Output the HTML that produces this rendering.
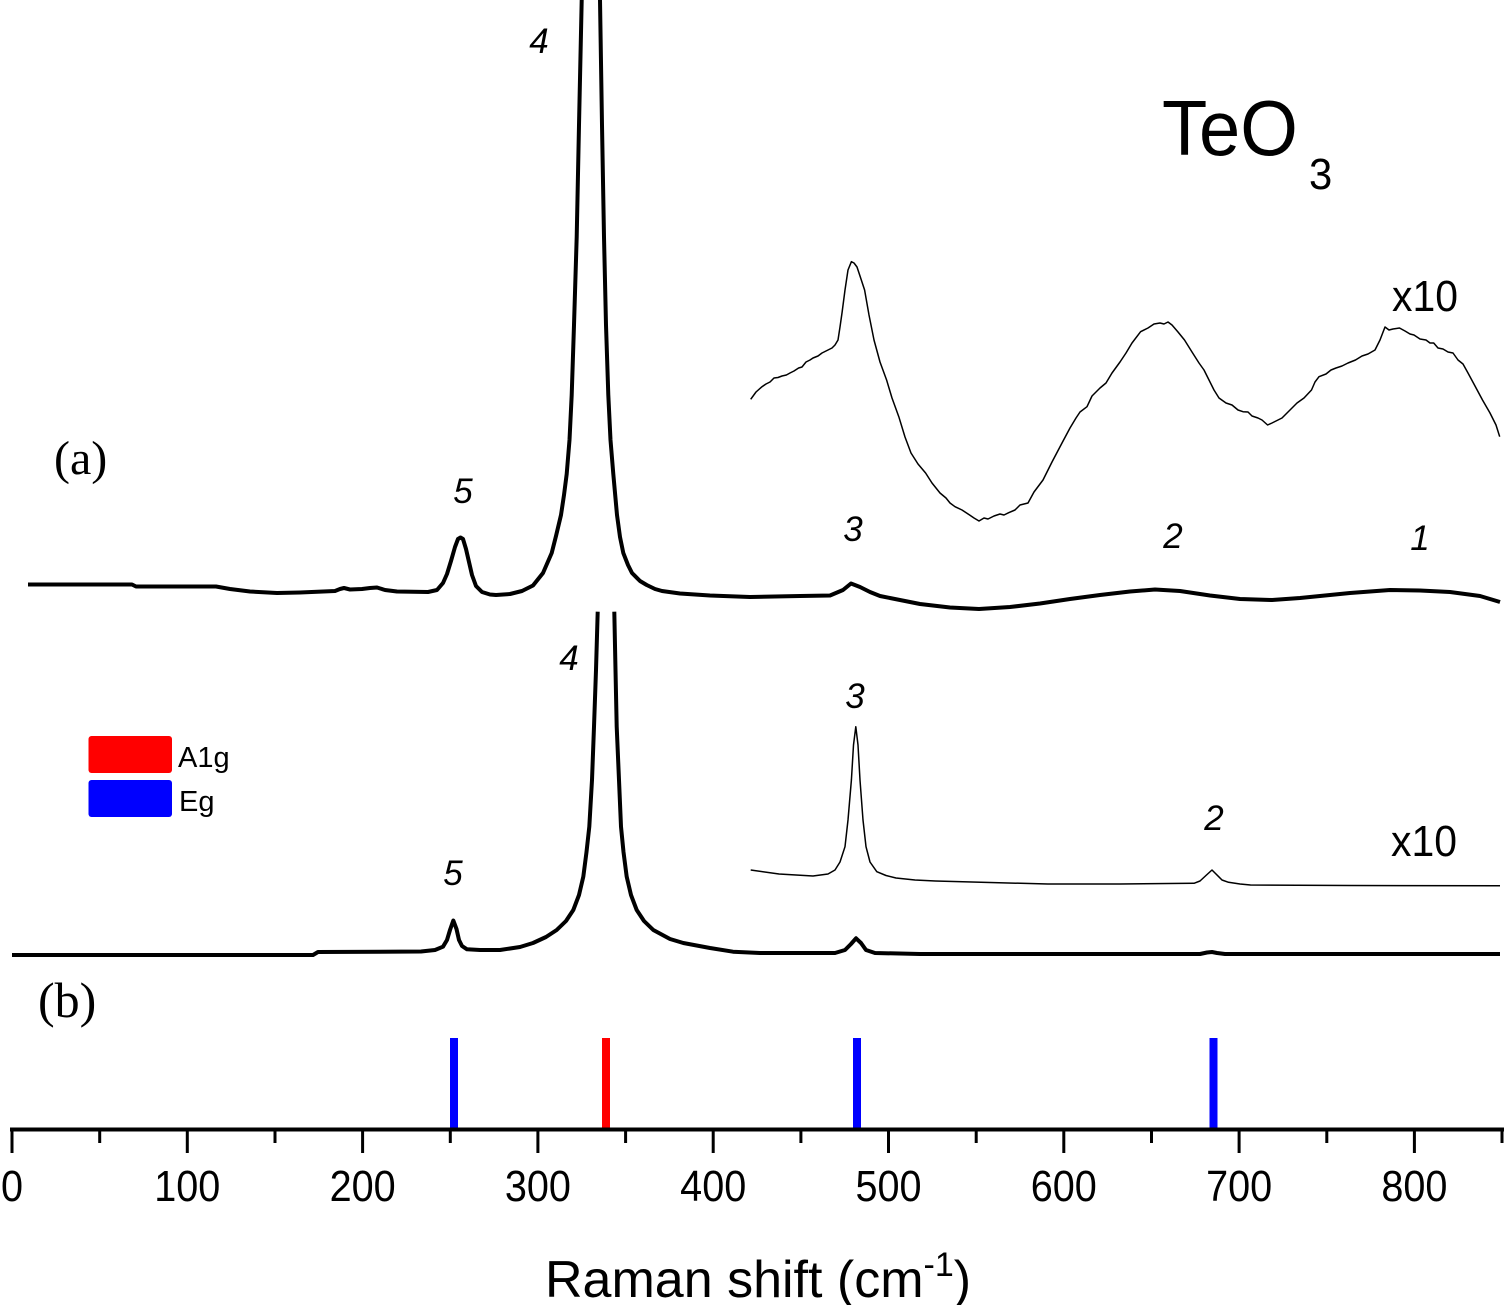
<!DOCTYPE html>
<html><head><meta charset="utf-8"><style>
html,body{margin:0;padding:0;background:#fff;}
svg{display:block;}
text{font-family:"Liberation Sans",Arial,sans-serif;fill:#000;}
</style></head><body>
<svg width="1506" height="1305" viewBox="0 0 1506 1305" xmlns="http://www.w3.org/2000/svg">
<rect width="1506" height="1305" fill="#fff"/>

<!-- TeO3 title -->
<text transform="translate(1162,155) scale(0.95,1)" font-size="78">TeO</text>
<text transform="translate(1309,189) scale(0.95,1)" font-size="44">3</text>

<!-- (a) / (b) labels -->
<text x="54" y="474" font-size="48" style="font-family:'Liberation Serif','Times New Roman',serif">(a)</text>
<text x="38" y="1017" font-size="50" style="font-family:'Liberation Serif','Times New Roman',serif">(b)</text>

<!-- x10 labels -->
<text transform="translate(1392,311) scale(0.93,1)" font-size="44">x10</text>
<text transform="translate(1391,856) scale(0.93,1)" font-size="44">x10</text>

<!-- peak number labels -->
<g font-size="35" font-style="italic" text-anchor="middle">
<text x="539" y="53">4</text>
<text x="463" y="503">5</text>
<text x="853" y="541">3</text>
<text x="1173" y="548">2</text>
<text x="1420" y="550">1</text>
<text x="569" y="670">4</text>
<text x="453" y="885">5</text>
<text x="855" y="708">3</text>
<text x="1214" y="830">2</text>
</g>

<!-- legend -->
<rect x="88.5" y="736" width="83.5" height="37" rx="3" fill="#ff0000"/>
<rect x="88.5" y="780" width="83.5" height="37" rx="3" fill="#0000ff"/>
<text x="178" y="767" font-size="29">A1g</text>
<text x="179" y="811" font-size="29">Eg</text>

<g fill="none" stroke="#000" stroke-linejoin="round" stroke-linecap="butt">
<!-- spectrum (a) thick, left part -->
<polyline stroke-width="4" points="28,584.5 132,584.5 136,586.5 216,586.5 230,589 250,591.5 277,593 300,592.5 335,591 340,589 344,588 350,589.5 362,589 370,588 377,587.5 385,590 397,591.5 428,592 437,590 443,583 447,574 451,561 455,547 458,539 460.5,537.5 463,539 466,549 469,562 472,575 476,586 482,592 490,594.5 496,595 510,594 522,591 533,585.5 543,573 551.7,553 556,536 561,515 564,495 566.7,474 569.5,440 571.7,395 574,325 576.7,237 579,125 581.7,0 582,-10"/>
<!-- spectrum (a) thick, right part -->
<polyline stroke-width="4" points="600,-10 600,0 602,125 604,237 606,325 608.3,395 610.5,440 613.3,474 617,515 620,537 623.3,553 628,565 632,573 640,581 646.7,585 655,589 662,591 680,593.5 710,595.5 750,597 800,596 830,595.5 843,590 851,583.5 860,587 870,592 880,596 920,604 950,607.5 979,609 1010,607 1040,603.5 1070,599 1100,595 1130,591.5 1155,589.5 1180,591 1210,595.5 1240,599 1272,600 1300,598 1320,596 1350,593 1390,590 1420,590.5 1450,592 1480,596 1500,602"/>

<!-- x10 (a) thin -->
<polyline stroke-width="1.5" points="750.7,399.3 756,392 762,386.7 766,384 770,382 774,378 778,377.5 782,376 786.4,375 790,373 794,371 798.6,368 802,367 806,362 810,360 813,358 818,356 822,353 828,350 832,348 835,345 838,340 840,327 842,313 845,290 848,270 851.4,261.7 854,263 857,267 860,276 864.6,290 869,315 874,340 880,362 886.6,380 892,398 898.8,416.7 905,437 911,453 918,464 925.6,473 932,483 940,493 946,498 950,503 955,506.7 962,510 969.6,515 974,518 979,521 984,518 988,519 994,516 1000,514 1004,515 1008.7,512.7 1015,510 1020,505 1028,503 1034,492 1043,480 1052,462 1062,443 1070,428 1076,418 1080,412 1087,406.7 1092,396 1100,388 1106,383 1112,373 1120,362 1126,353 1132,343 1140.6,331.7 1148,328 1154,324 1160,323 1164,324 1168,322 1172,325 1178,332 1184.5,340 1192,352 1199,363 1204,370 1208,378 1214,390 1219,398 1226,403 1232,405 1238,410 1243,411.7 1248,412 1252,416 1258,418 1262,420 1267.6,425 1272,423 1278,420 1282,418 1288,412 1297,403 1304,398 1311.5,390 1315,382 1319,376.7 1326,374 1331,370 1336,368 1342,366 1348,363 1355.5,360 1362,356 1368,354 1375,350 1380,340 1385,327 1389,330 1393,329 1399.5,328 1405,331 1410,334 1414,335 1420,339 1426,340 1430,343 1433.7,343 1438,348 1443,349 1448,352 1453,353 1458,360 1463,364 1468,373 1475,386 1482.5,400 1490,413 1496,425 1499.7,436.7"/>

<!-- spectrum (b) thick, left part -->
<polyline stroke-width="4" points="12,955 313,955 318,952 421,951.5 435,950 443,946.7 447,940 450,930 453.3,920.5 456.5,929 459,940 462,946 467,949.3 480,950 500,950 520,947 533,943 546,937 556.7,930 566,921 573.3,910 579,895 583.3,876.7 586.5,852 589.3,826.7 592,780 594,726.7 596,670 597.7,611.7"/>
<!-- spectrum (b) thick, right part -->
<polyline stroke-width="4" points="614.3,611.7 615.5,670 616.7,726.7 619,780 621,826.7 623.5,852 626.7,876.7 631,895 636.7,910 644,921 653.3,930 670,939 683.3,943 710,948 733,951.7 760,953 800,953 835,953 845,950 851,944 856,938.3 861,943 866,950 875,953 920,954 1200,954 1207,952.5 1212,952 1217,953 1225,954 1500,954"/>

<!-- x10 (b) thin -->
<polyline stroke-width="1.5" points="750.7,870 779,874 813,876 828,874 835,870 840,862 845,846.7 848,820 851.4,780 853.5,745 855.8,726.7 858,745 860,780 863,820 866,846.7 870,862 876.8,871.7 886,875.5 896,878 915,880 935.4,881 990,882.5 1047.8,884 1120,884 1194,883.3 1200,881 1206.5,875 1212,870 1215,873 1218.7,876.7 1222,880 1228.5,882.3 1240,884 1250.5,885 1350,885.5 1500,885.7"/>
</g>

<!-- mode bars -->
<rect x="450" y="1038" width="8" height="92" fill="#0000ff"/>
<rect x="602" y="1038" width="8" height="92" fill="#ff0000"/>
<rect x="853" y="1038" width="8" height="92" fill="#0000ff"/>
<rect x="1209.5" y="1038" width="8" height="92" fill="#0000ff"/>

<!-- x axis -->
<line x1="10" y1="1129.5" x2="1504" y2="1129.5" stroke="#000" stroke-width="4"/>
<g stroke="#000" stroke-width="3">
<line x1="12" y1="1129" x2="12" y2="1153"/>
<line x1="187.3" y1="1129" x2="187.3" y2="1153"/>
<line x1="362.6" y1="1129" x2="362.6" y2="1153"/>
<line x1="537.9" y1="1129" x2="537.9" y2="1153"/>
<line x1="713.2" y1="1129" x2="713.2" y2="1153"/>
<line x1="888.5" y1="1129" x2="888.5" y2="1153"/>
<line x1="1063.8" y1="1129" x2="1063.8" y2="1153"/>
<line x1="1239.1" y1="1129" x2="1239.1" y2="1153"/>
<line x1="1414.4" y1="1129" x2="1414.4" y2="1153"/>
<line x1="99.7" y1="1129" x2="99.7" y2="1143"/>
<line x1="275" y1="1129" x2="275" y2="1143"/>
<line x1="450.3" y1="1129" x2="450.3" y2="1143"/>
<line x1="625.6" y1="1129" x2="625.6" y2="1143"/>
<line x1="800.9" y1="1129" x2="800.9" y2="1143"/>
<line x1="976.2" y1="1129" x2="976.2" y2="1143"/>
<line x1="1151.5" y1="1129" x2="1151.5" y2="1143"/>
<line x1="1326.8" y1="1129" x2="1326.8" y2="1143"/>
<line x1="1502" y1="1129" x2="1502" y2="1143"/>
</g>
<g font-size="44" text-anchor="middle">
<text transform="translate(12,1201) scale(0.9,1)">0</text>
<text transform="translate(187.3,1201) scale(0.9,1)">100</text>
<text transform="translate(362.6,1201) scale(0.9,1)">200</text>
<text transform="translate(537.9,1201) scale(0.9,1)">300</text>
<text transform="translate(713.2,1201) scale(0.9,1)">400</text>
<text transform="translate(888.5,1201) scale(0.9,1)">500</text>
<text transform="translate(1063.8,1201) scale(0.9,1)">600</text>
<text transform="translate(1239.1,1201) scale(0.9,1)">700</text>
<text transform="translate(1414.4,1201) scale(0.9,1)">800</text>
</g>
<text x="545" y="1297" font-size="52">Raman shift (cm<tspan dy="-21" font-size="34">-1</tspan><tspan dy="21" font-size="52">)</tspan></text>
</svg>
</body></html>
